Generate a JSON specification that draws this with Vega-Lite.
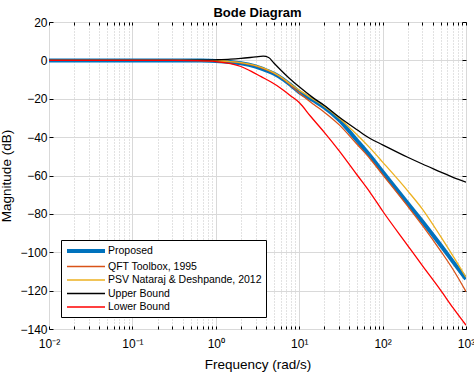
{
  "$schema": "https://vega.github.io/schema/vega-lite/v6.json",
  "width": 417,
  "height": 307,
  "autosize": {"type": "none"},
  "padding": {"left": 49, "top": 22, "right": 8, "bottom": 43},
  "title": {"text": "Bode Diagram", "fontSize": 13, "fontWeight": "bold", "font": "Liberation Sans", "offset": -4, "color": "black"},
  "config": {
    "view": {"stroke": "black", "strokeWidth": 1},
    "axis": {"labelFont": "Liberation Sans", "titleFont": "Liberation Sans", "labelColor": "black", "titleColor": "black", "labelFontSize": 12, "titleFontSize": 13.5, "titleFontWeight": "normal", "domain": false, "tickColor": "black"}
  },
  "datasets": {
    "curves": [
      {"s": "Proposed", "f": 0.01, "db": 0}, {"s": "Proposed", "f": 0.1, "db": 0}, {"s": "Proposed", "f": 0.3, "db": 0}, {"s": "Proposed", "f": 0.6, "db": -0.1}, {"s": "Proposed", "f": 1, "db": -0.3}, {"s": "Proposed", "f": 1.5, "db": -0.8}, {"s": "Proposed", "f": 2, "db": -1.5}, {"s": "Proposed", "f": 3, "db": -3.2}, {"s": "Proposed", "f": 4, "db": -5.2}, {"s": "Proposed", "f": 5, "db": -7}, {"s": "Proposed", "f": 6.3, "db": -9.6}, {"s": "Proposed", "f": 8, "db": -13}, {"s": "Proposed", "f": 10, "db": -16.5}, {"s": "Proposed", "f": 15, "db": -21}, {"s": "Proposed", "f": 20, "db": -24.5}, {"s": "Proposed", "f": 30, "db": -31}, {"s": "Proposed", "f": 50, "db": -42}, {"s": "Proposed", "f": 70, "db": -49.5}, {"s": "Proposed", "f": 100, "db": -58}, {"s": "Proposed", "f": 200, "db": -74.5}, {"s": "Proposed", "f": 300, "db": -84}, {"s": "Proposed", "f": 500, "db": -96.5}, {"s": "Proposed", "f": 700, "db": -105}, {"s": "Proposed", "f": 1000, "db": -114},
      {"s": "QFT Toolbox, 1995", "f": 0.01, "db": 0}, {"s": "QFT Toolbox, 1995", "f": 0.1, "db": 0}, {"s": "QFT Toolbox, 1995", "f": 0.3, "db": 0}, {"s": "QFT Toolbox, 1995", "f": 0.6, "db": -0.1}, {"s": "QFT Toolbox, 1995", "f": 1, "db": -0.3}, {"s": "QFT Toolbox, 1995", "f": 1.5, "db": -0.7}, {"s": "QFT Toolbox, 1995", "f": 2, "db": -1.3}, {"s": "QFT Toolbox, 1995", "f": 3, "db": -2.9}, {"s": "QFT Toolbox, 1995", "f": 4, "db": -4.8}, {"s": "QFT Toolbox, 1995", "f": 5, "db": -6.7}, {"s": "QFT Toolbox, 1995", "f": 6.3, "db": -9.4}, {"s": "QFT Toolbox, 1995", "f": 8, "db": -13.2}, {"s": "QFT Toolbox, 1995", "f": 10, "db": -17}, {"s": "QFT Toolbox, 1995", "f": 15, "db": -23}, {"s": "QFT Toolbox, 1995", "f": 20, "db": -27}, {"s": "QFT Toolbox, 1995", "f": 30, "db": -33.5}, {"s": "QFT Toolbox, 1995", "f": 50, "db": -44}, {"s": "QFT Toolbox, 1995", "f": 70, "db": -51}, {"s": "QFT Toolbox, 1995", "f": 100, "db": -59.5}, {"s": "QFT Toolbox, 1995", "f": 200, "db": -76}, {"s": "QFT Toolbox, 1995", "f": 300, "db": -86}, {"s": "QFT Toolbox, 1995", "f": 500, "db": -99.5}, {"s": "QFT Toolbox, 1995", "f": 700, "db": -109}, {"s": "QFT Toolbox, 1995", "f": 1000, "db": -120.5},
      {"s": "PSV Nataraj & Deshpande, 2012", "f": 0.01, "db": 0}, {"s": "PSV Nataraj & Deshpande, 2012", "f": 0.1, "db": 0}, {"s": "PSV Nataraj & Deshpande, 2012", "f": 0.3, "db": 0}, {"s": "PSV Nataraj & Deshpande, 2012", "f": 0.6, "db": -0.05}, {"s": "PSV Nataraj & Deshpande, 2012", "f": 1, "db": -0.2}, {"s": "PSV Nataraj & Deshpande, 2012", "f": 1.5, "db": -0.6}, {"s": "PSV Nataraj & Deshpande, 2012", "f": 2, "db": -1.2}, {"s": "PSV Nataraj & Deshpande, 2012", "f": 3, "db": -2.7}, {"s": "PSV Nataraj & Deshpande, 2012", "f": 4, "db": -4.6}, {"s": "PSV Nataraj & Deshpande, 2012", "f": 5, "db": -6.5}, {"s": "PSV Nataraj & Deshpande, 2012", "f": 6.3, "db": -9.2}, {"s": "PSV Nataraj & Deshpande, 2012", "f": 8, "db": -12.6}, {"s": "PSV Nataraj & Deshpande, 2012", "f": 10, "db": -15.5}, {"s": "PSV Nataraj & Deshpande, 2012", "f": 15, "db": -20.5}, {"s": "PSV Nataraj & Deshpande, 2012", "f": 20, "db": -24}, {"s": "PSV Nataraj & Deshpande, 2012", "f": 30, "db": -30}, {"s": "PSV Nataraj & Deshpande, 2012", "f": 50, "db": -39}, {"s": "PSV Nataraj & Deshpande, 2012", "f": 70, "db": -45.5}, {"s": "PSV Nataraj & Deshpande, 2012", "f": 100, "db": -53}, {"s": "PSV Nataraj & Deshpande, 2012", "f": 200, "db": -68}, {"s": "PSV Nataraj & Deshpande, 2012", "f": 300, "db": -77.5}, {"s": "PSV Nataraj & Deshpande, 2012", "f": 500, "db": -92}, {"s": "PSV Nataraj & Deshpande, 2012", "f": 700, "db": -102}, {"s": "PSV Nataraj & Deshpande, 2012", "f": 1000, "db": -113},
      {"s": "Upper Bound", "f": 0.01, "db": 0}, {"s": "Upper Bound", "f": 0.1, "db": 0}, {"s": "Upper Bound", "f": 0.3, "db": 0}, {"s": "Upper Bound", "f": 0.6, "db": 0.1}, {"s": "Upper Bound", "f": 1, "db": 0.3}, {"s": "Upper Bound", "f": 1.5, "db": 0.6}, {"s": "Upper Bound", "f": 2, "db": 1.0}, {"s": "Upper Bound", "f": 3, "db": 1.8}, {"s": "Upper Bound", "f": 3.7, "db": 2.2}, {"s": "Upper Bound", "f": 4.3, "db": 1.5}, {"s": "Upper Bound", "f": 5, "db": -1.5}, {"s": "Upper Bound", "f": 6, "db": -5}, {"s": "Upper Bound", "f": 7.6, "db": -9.3}, {"s": "Upper Bound", "f": 10, "db": -13.8}, {"s": "Upper Bound", "f": 15, "db": -19.8}, {"s": "Upper Bound", "f": 20, "db": -23.5}, {"s": "Upper Bound", "f": 30, "db": -29.5}, {"s": "Upper Bound", "f": 50, "db": -36.3}, {"s": "Upper Bound", "f": 70, "db": -40.6}, {"s": "Upper Bound", "f": 100, "db": -44}, {"s": "Upper Bound", "f": 200, "db": -50.5}, {"s": "Upper Bound", "f": 300, "db": -54}, {"s": "Upper Bound", "f": 500, "db": -58.2}, {"s": "Upper Bound", "f": 700, "db": -61}, {"s": "Upper Bound", "f": 1000, "db": -63.5},
      {"s": "Lower Bound", "f": 0.01, "db": 0}, {"s": "Lower Bound", "f": 0.1, "db": 0}, {"s": "Lower Bound", "f": 0.3, "db": 0}, {"s": "Lower Bound", "f": 0.6, "db": -0.15}, {"s": "Lower Bound", "f": 1, "db": -0.6}, {"s": "Lower Bound", "f": 1.5, "db": -1.7}, {"s": "Lower Bound", "f": 2, "db": -3.2}, {"s": "Lower Bound", "f": 2.6, "db": -5.5}, {"s": "Lower Bound", "f": 3.5, "db": -8.5}, {"s": "Lower Bound", "f": 4.6, "db": -11.3}, {"s": "Lower Bound", "f": 6, "db": -14.5}, {"s": "Lower Bound", "f": 7.8, "db": -18.3}, {"s": "Lower Bound", "f": 10, "db": -22}, {"s": "Lower Bound", "f": 13.6, "db": -29}, {"s": "Lower Bound", "f": 20, "db": -37.5}, {"s": "Lower Bound", "f": 30, "db": -47}, {"s": "Lower Bound", "f": 50, "db": -60}, {"s": "Lower Bound", "f": 70, "db": -68.5}, {"s": "Lower Bound", "f": 100, "db": -78.5}, {"s": "Lower Bound", "f": 200, "db": -96.5}, {"s": "Lower Bound", "f": 300, "db": -107}, {"s": "Lower Bound", "f": 500, "db": -120}, {"s": "Lower Bound", "f": 700, "db": -129}, {"s": "Lower Bound", "f": 1000, "db": -138}
    ]
  },
  "data": {"name": "curves"},
  "resolve": {"axis": {"x": "independent", "y": "independent"}},
  "layer": [
    {
      "mark": {"type": "line", "strokeOpacity": 0, "clip": true},
      "encoding": {
        "x": {"field": "f", "type": "quantitative", "scale": {"type": "log", "domain": [0.01, 1000], "nice": false},
          "axis": {"orient": "top", "title": null, "labels": false, "grid": false, "tickSize": -3,
            "values": [0.01,0.02,0.03,0.04,0.05,0.06,0.07,0.08,0.09,0.1,0.2,0.3,0.4,0.5,0.6,0.7,0.8,0.9,1,2,3,4,5,6,7,8,9,10,20,30,40,50,60,70,80,90,100,200,300,400,500,600,700,800,900,1000]}},
        "y": {"field": "db", "type": "quantitative", "scale": {"domain": [-140, 20], "nice": false, "zero": false},
          "axis": {"orient": "right", "title": null, "labels": false, "grid": false, "tickSize": -4, "values": [-140,-120,-100,-80,-60,-40,-20,0,20]}}
      }
    },
    {
      "mark": {"type": "line", "interpolate": "monotone", "clip": true},
      "encoding": {
        "x": {"field": "f", "type": "quantitative", "scale": {"type": "log", "domain": [0.01, 1000], "nice": false},
          "axis": {"orient": "bottom", "title": "Frequency  (rad/s)", "titlePadding": 8, "tickSize": -3, "labelPadding": 12,
            "labelOverlap": false, "labelBound": false, "labelFlush": false,
            "values": [0.01,0.02,0.03,0.04,0.05,0.06,0.07,0.08,0.09,0.1,0.2,0.3,0.4,0.5,0.6,0.7,0.8,0.9,1,2,3,4,5,6,7,8,9,10,20,30,40,50,60,70,80,90,100,200,300,400,500,600,700,800,900,1000],
            "labelExpr": "datum.value < 0.011 ? '10⁻²' : abs(datum.value - 0.1) < 0.001 ? '10⁻¹' : datum.value == 1 ? '10⁰' : datum.value == 10 ? '10¹' : datum.value == 100 ? '10²' : datum.value == 1000 ? '10³' : ''",
            "grid": true,
            "gridColor": {"condition": {"test": "abs(log(datum.value)/LN10 - round(log(datum.value)/LN10)) < 0.001", "value": "#d9d9d9"}, "value": "#c4c4c4"},
            "gridDash": {"condition": {"test": "abs(log(datum.value)/LN10 - round(log(datum.value)/LN10)) < 0.001", "value": []}, "value": [1, 2]},
            "gridWidth": 1}},
        "y": {"field": "db", "type": "quantitative", "scale": {"domain": [-140, 20], "nice": false, "zero": false},
          "axis": {"orient": "left", "title": "Magnitude (dB)", "titlePadding": 6, "tickSize": -4, "labelPadding": 6,
            "values": [-140,-120,-100,-80,-60,-40,-20,0,20], "grid": true, "gridColor": "#d9d9d9"}},
        "color": {"field": "s", "type": "nominal",
          "scale": {"domain": ["Proposed", "QFT Toolbox, 1995", "PSV Nataraj & Deshpande, 2012", "Upper Bound", "Lower Bound"],
            "range": ["#0072BD", "#D95319", "#EDB120", "#000000", "#FF0000"]},
          "legend": {"orient": "bottom-left", "offset": 12, "title": null, "fillColor": "white", "strokeColor": "black",
            "padding": 4, "labelFont": "Liberation Sans", "labelFontSize": 10.5, "labelColor": "black",
            "symbolType": "M-1,0H6.6", "symbolSize": 100, "rowPadding": 1.5, "labelOffset": 29}},
        "strokeWidth": {"field": "s", "type": "nominal",
          "scale": {"type": "ordinal", "domain": ["Proposed", "QFT Toolbox, 1995", "PSV Nataraj & Deshpande, 2012", "Upper Bound", "Lower Bound"],
            "range": [4, 1.3, 1.3, 1.3, 1.3]}}
      }
    }
  ]
}
